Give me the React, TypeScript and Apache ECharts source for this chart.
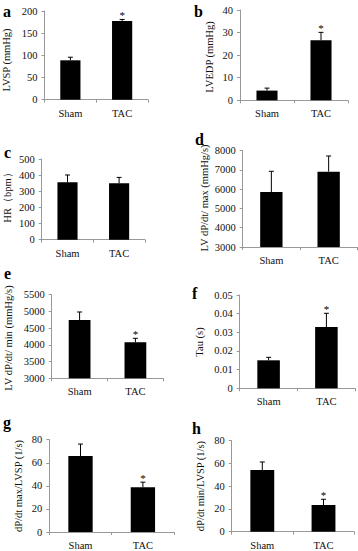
import React, { useEffect, useRef } from "react";
import * as echarts from "echarts";

const categories = ["Sham", "TAC"];

const lvsp = [88.8, 177.5];
const lvspErr = [7, 3.5];
const lvedp = [4.3, 26.6];
const lvedpErr = [1.1, 3.5];
const hr = [356, 349];
const hrErr = [45, 37];
const dpdtMax = [5850, 6910];
const dpdtMaxErr = [1080, 815];
const dpdtMin = [4743, 4076];
const dpdtMinErr = [240, 120];
const tau = [0.015, 0.0328];
const tauErr = [0.0016, 0.0074];
const maxLvsp = [65.9, 38.8];
const maxLvspErr = [10.3, 4.4];
const minLvsp = [54.2, 23.5];
const minLvspErr = [7.1, 5.0];

const sigA = [0, 1];
const sigB = [0, 1];
const sigC = [0, 0];
const sigD = [0, 0];
const sigE = [0, 1];
const sigF = [0, 1];
const sigG = [0, 1];
const sigH = [0, 1];

const panelLetters = ["a", "b", "c", "d", "e", "f", "g", "h"];
const yTitles = [
  "LVSP (mmHg)",
  "LVEDP (mmHg)",
  "HR（bpm）",
  "LV dP/dt/ max (mmHg/s)",
  "LV dP/dt/ min (mmHg/s)",
  "Tau (s)",
  "dP/dt max/LVSP (1/s)",
  "dP/dt min/LVSP (1/s)",
];
const yMin = [0, 0, 0, 3000, 3000, 0, 0, 0];
const yMax = [200, 40, 500, 8000, 5500, 0.05, 80, 80];
const yInterval = [50, 10, 100, 1000, 500, 0.01, 20, 20];

const FONT = "'Liberation Serif', 'Times New Roman', serif";

const panels = [
  { v: lvsp, e: lvspErr, s: sigA },
  { v: lvedp, e: lvedpErr, s: sigB },
  { v: hr, e: hrErr, s: sigC },
  { v: dpdtMax, e: dpdtMaxErr, s: sigD },
  { v: dpdtMin, e: dpdtMinErr, s: sigE },
  { v: tau, e: tauErr, s: sigF },
  { v: maxLvsp, e: maxLvspErr, s: sigG },
  { v: minLvsp, e: minLvspErr, s: sigH },
];

// layout (pixels)
const grids = [
  { left: 44.5, top: 11, width: 103.5, height: 88.7 },
  { left: 240, top: 10, width: 108, height: 90.3 },
  { left: 41.7, top: 159, width: 103.2, height: 80.7 },
  { left: 242.7, top: 150.7, width: 114.6, height: 96.3 },
  { left: 51.7, top: 294.7, width: 111.6, height: 83.6 },
  { left: 239.7, top: 295, width: 115.6, height: 93.3 },
  { left: 49.3, top: 439.7, width: 124.8, height: 92.6 },
  { left: 231.7, top: 440.7, width: 122.4, height: 91 },
];
const letterPos = [
  [3, 11], [194, 11], [4, 152], [195, 139], [4, 273], [192, 293], [3, 422], [192, 428],
];
const titlePos = [
  [6, 60], [209, 57], [7.5, 195], [204, 198], [8, 338], [199, 342], [18, 486], [200, 486],
];

export default function App() {
  const ref = useRef<HTMLDivElement>(null);
  useEffect(() => {
    if (!ref.current) return;
    const chart = echarts.init(ref.current, undefined, { renderer: "svg" });
    const axisColor = "#999";
    const xAxis = grids.map((_, i) => ({
      type: "category",
      gridIndex: i,
      data: categories,
      boundaryGap: true,
      axisLine: { lineStyle: { color: axisColor, width: 1 } },
      axisTick: { show: true, length: 3, lineStyle: { color: axisColor } },
      axisLabel: { color: "#111", fontFamily: FONT, fontSize: 10.5, margin: 8 },
    }));
    const yAxis = grids.map((_, i) => ({
      type: "value",
      gridIndex: i,
      min: yMin[i],
      max: yMax[i],
      interval: yInterval[i],
      splitLine: { show: false },
      axisLine: { show: true, lineStyle: { color: axisColor, width: 1 } },
      axisTick: { show: true, length: 3, lineStyle: { color: axisColor } },
      axisLabel: {
        color: "#111",
        fontFamily: FONT,
        fontSize: 10.5,
        margin: 7,
        formatter: (val: number) => (i === 5 ? (val === 0 ? "0" : val.toFixed(2)) : String(val)),
      },
    }));
    const series: any[] = [];
    panels.forEach((p, i) => {
      series.push({
        type: "bar",
        xAxisIndex: i,
        yAxisIndex: i,
        data: p.v,
        barWidth: "39%",
        itemStyle: { color: "#000" },
        silent: true,
      });
      series.push({
        type: "custom",
        xAxisIndex: i,
        yAxisIndex: i,
        encode: { x: 0, y: 1 },
        itemStyle: { color: "#000" },
        data: p.v.map((v, k) => [k, v, p.e[k], p.s[k]]),
        renderItem: (params: any, api: any) => {
          const k = api.value(0);
          const v = api.value(1);
          const e = api.value(2);
          const s = api.value(3);
          const base = api.coord([k, v]);
          const top = api.coord([k, v + e]);
          const children: any[] = [
            {
              type: "line",
              shape: { x1: base[0], y1: base[1], x2: base[0], y2: top[1] },
              style: { stroke: "#000", lineWidth: 1 },
            },
            {
              type: "line",
              shape: { x1: base[0] - 2.5, y1: top[1], x2: base[0] + 2.5, y2: top[1] },
              style: { stroke: "#000", lineWidth: 1 },
            },
          ];
          if (s) {
            children.push({
              type: "text",
              x: base[0],
              y: top[1] - 4,
              style: {
                text: "*",
                font: "11px 'Liberation Serif', serif",
                fill: "#000",
                align: "center",
                verticalAlign: "middle",
              },
            });
          }
          return { type: "group", children };
        },
        silent: true,
        z: 5,
      });
    });
    const graphic: any[] = [];
    panelLetters.forEach((l, i) => {
      graphic.push({
        type: "text",
        x: letterPos[i][0],
        y: letterPos[i][1],
        style: {
          text: l,
          font: "bold 16px 'Liberation Serif', serif",
          fill: "#000",
          align: "left",
          verticalAlign: "middle",
        },
      });
      graphic.push({
        type: "text",
        x: titlePos[i][0],
        y: titlePos[i][1],
        rotation: Math.PI / 2,
        style: {
          text: yTitles[i],
          font: "10.5px 'Liberation Serif', serif",
          fill: "#111",
          align: "center",
          verticalAlign: "middle",
        },
      });
    });
    chart.setOption({
      animation: false,
      backgroundColor: "#fff",
      grid: grids.map((g) => ({ ...g, containLabel: false })),
      xAxis,
      yAxis,
      series,
      graphic,
    });
    return () => chart.dispose();
  }, []);
  return (
    <div
      ref={ref}
      style={{ position: "fixed", left: 0, top: 0, width: 358, height: 551, background: "#fff" }}
    />
  );
}
